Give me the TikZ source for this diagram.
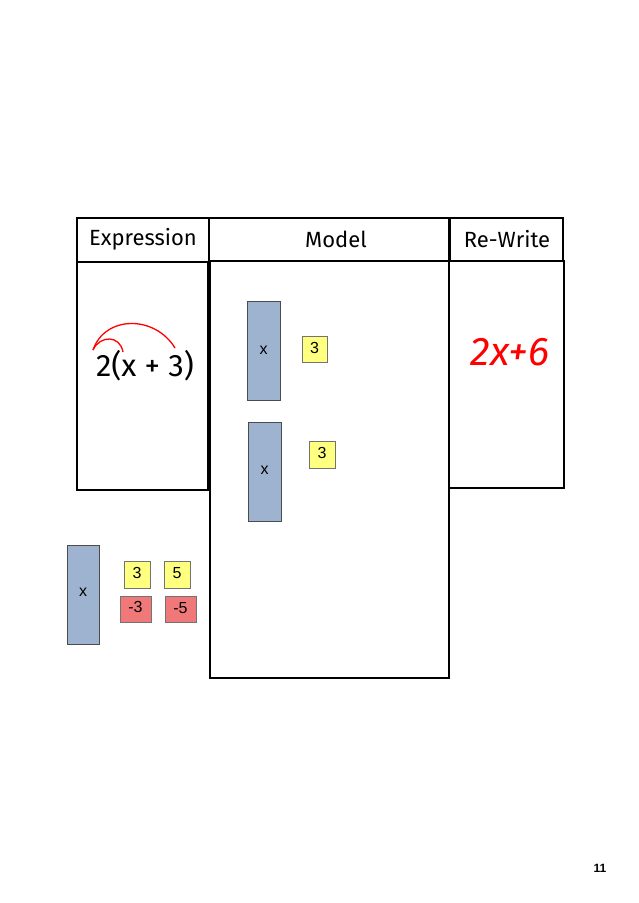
\documentclass[tikz,border=0pt]{standalone}
\usepackage{fontspec}
\setmainfont{Fira Sans}
\newfontfamily\arialf{Liberation Sans}
\begin{document}
\begin{tikzpicture}[x=1pt,y=-1pt,
 cell/.style={draw=black,line width=1.6pt},
 hd/.style={font=\fontsize{22}{22}\selectfont},
 bar/.style={draw=black!70,fill={rgb,255:red,157;green,179;blue,207},line width=0.8pt},
 ytile/.style={draw=black!55,fill={rgb,255:red,255;green,255;blue,128},line width=0.8pt},
 rtile/.style={draw=black!55,fill={rgb,255:red,240;green,120;blue,120},line width=0.8pt},
 lab/.style={font=\arialf\fontsize{16}{16}\selectfont}]
\useasboundingbox (0,0) rectangle (638,903);
\draw[cell] (77,218) rectangle (209,262); \node[hd] (h1) at (143,239) {Expression};
\draw[cell] (209,218) rectangle (449,261); \node[hd] (h2) at (336,239) {Model};
\draw[cell] (450,218) rectangle (563,261); \node[hd] (h3) at (507,239) {Re-Write};
\draw[cell] (77,262) rectangle (208,490);
\draw[cell] (210,261) rectangle (449,678);
\draw[cell] (449,261) rectangle (564,488);
\node[font=\fontsize{31}{31}\selectfont] (ex) at (145,366) {2(x + 3)};
\draw[red,line width=1.3pt] (93,350) .. controls (105,315) and (155,315) .. (175,348);
\draw[red,line width=1.3pt] (93,350) .. controls (100,335) and (120,335) .. (123,352);
\node[red,font=\fontsize{40}{40}\selectfont\itshape] (rw) at (510,352) {2x+6};
\draw[bar] (247,301) rectangle (280,400); \node[lab] (x1) at (263.5,350) {x};
\draw[ytile] (302,336) rectangle (327,362); \node[lab] (t1) at (314.5,348) {3};
\draw[bar] (248,422) rectangle (281,521); \node[lab] (x2) at (264.5,470) {x};
\draw[ytile] (309,441) rectangle (335,468); \node[lab] (t2) at (322,453) {3};
\draw[bar] (67,545) rectangle (99,644); \node[lab] (x3) at (83,592) {x};
\draw[ytile] (124,561) rectangle (150,588); \node[lab] (a) at (137,573) {3};
\draw[ytile] (164,561) rectangle (190,588); \node[lab] (b) at (177,573) {5};
\draw[rtile] (120,596) rectangle (151,622); \node[lab] (c) at (135.5,607) {-3};
\draw[rtile] (165,596) rectangle (196,622); \node[lab] (d) at (180.5,608) {-5};
\node[font=\arialf\bfseries\fontsize{12}{12}\selectfont] (pg) at (600,868) {11};
\end{tikzpicture}
\end{document}
